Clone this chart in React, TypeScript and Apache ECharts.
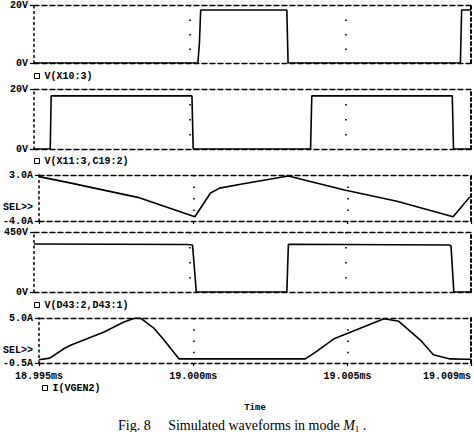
import React, { useEffect, useRef } from "react";
import * as echarts from "echarts";

// x positions are microseconds after 18.995 ms
const xTickPositions = [0, 5, 10, 14];
const xTickLabels = ["18.995ms", "19.000ms", "19.005ms", "19.009ms"];
const xName = "Time";

const p1Name = "V(X10:3)";
const p1T = [0, 5.25, 5.3, 5.34, 8.1, 8.14, 13.66, 13.7, 14];
const p1V = [0, 0, 7, 18.3, 18.3, 0, 0, 18.3, 18.3];
const p1YTicks = [0, 20];
const p1YLabels = ["0V", "20V"];

const p2Name = "V(X11:3,C19:2)";
const p2T = [0, 0.52, 0.55, 5.06, 5.1, 8.86, 8.9, 13.4, 13.44, 14];
const p2V = [0, 0, 17.7, 17.7, 0, 0, 17.7, 17.7, 0, 0];
const p2YTicks = [0, 20];
const p2YLabels = ["0V", "20V"];

const p3Name = "I(L1)";
const p3T = [0, 1.0, 3.2, 5.05, 5.56, 5.85, 6.58, 8.08, 9.9, 11.6, 13.42, 13.96];
const p3V = [2.75, 1.8, -0.4, -3.35, 0.26, 1.0, 1.63, 2.85, 0.72, -1.0, -3.35, -0.35];
const p3YTicks = [-4, -2, 3];
const p3YLabels = ["-4.0A", "SEL>>", "3.0A"];

const p4Name = "V(D43:2,D43:1)";
const p4T = [0, 4.9, 5.08, 5.2, 8.1, 8.15, 13.3, 13.36, 13.45, 14];
const p4V = [360, 356, 352, 0, 0, 358, 352, 345, 0, 0];
const p4YTicks = [0, 450];
const p4YLabels = ["0V", "450V"];

const p5Name = "I(VGEN2)";
const p5T = [0, 0.35, 0.83, 1.04, 2.11, 2.75, 3.12, 3.3, 3.71, 4.03, 4.54, 8.63, 8.95, 9.58, 10.45, 11.18, 11.66, 12.36, 12.78, 13.32, 13.83, 14];
const p5V = [-0.1, 0.1, 1.3, 1.7, 3.3, 4.5, 5.0, 4.95, 3.8, 2.4, 0.0, 0.0, 0.8, 2.5, 3.8, 4.9, 4.6, 2.3, 0.5, 0.0, -0.05, -0.05];
const p5YTicks = [-0.5, 1, 5];
const p5YLabels = ["-0.5A", "SEL>>", "5.0A"];

const FONT = "'Liberation Mono', 'DejaVu Sans Mono', monospace";
const lbl = { fontFamily: FONT, fontWeight: "bold" as const, fontSize: 10, color: "#000" };
const SERIF = "'Liberation Serif', 'Times New Roman', serif";

const LEFT = 34;
const WIDTH = 437;
const layout = [
  { top: 5, height: 58, legendTop: 71, legendLeft: 34, bottomTicks: false },
  { top: 89, height: 60, legendTop: 156, legendLeft: 34, bottomTicks: false },
  { top: 175, height: 46, legendTop: -1, legendLeft: 0, bottomTicks: true },
  { top: 232, height: 60, legendTop: 300, legendLeft: 34, bottomTicks: false },
  { top: 318, height: 45, legendTop: 383, legendLeft: 42, bottomTicks: true },
];

const panels = [
  { name: p1Name, t: p1T, v: p1V, ticks: p1YTicks, labels: p1YLabels },
  { name: p2Name, t: p2T, v: p2V, ticks: p2YTicks, labels: p2YLabels },
  { name: p3Name, t: p3T, v: p3V, ticks: p3YTicks, labels: p3YLabels },
  { name: p4Name, t: p4T, v: p4V, ticks: p4YTicks, labels: p4YLabels },
  { name: p5Name, t: p5T, v: p5V, ticks: p5YTicks, labels: p5YLabels },
];

function nearestLabel(vals: number[], labels: string[], v: number) {
  let best = 0;
  for (let i = 1; i < vals.length; i++) {
    if (Math.abs(vals[i] - v) < Math.abs(vals[best] - v)) best = i;
  }
  return labels[best];
}

const dashH = { color: "#000", width: 1.3, type: [5, 3] as number[] };
const dashV = { color: "#000", width: 1.5, type: [2, 3.5] as number[] };
const dashR = { color: "#000", width: 2, type: [3, 3] as number[] };

function buildOption() {
  const grid: any[] = [];
  const xAxis: any[] = [];
  const yAxis: any[] = [];
  const series: any[] = [];
  const legend: any[] = [];

  panels.forEach((p, i) => {
    const l = layout[i];
    const last = i === panels.length - 1;
    const yMin = p.ticks[0];
    const yMax = p.ticks[p.ticks.length - 1];
    grid.push({ left: LEFT, width: WIDTH, top: l.top, height: l.height, show: false });
    xAxis.push({
      type: "value",
      gridIndex: i,
      min: 0,
      max: 14,
      interval: 5,
      position: "bottom",
      axisLine: { show: true, onZero: false, lineStyle: dashH },
      axisTick: {
        show: l.bottomTicks,
        length: 3,
        lineStyle: { color: "#000", width: 1.2 },
      },
      axisLabel: last
        ? {
            show: true,
            customValues: xTickPositions,
            formatter: (v: number) => nearestLabel(xTickPositions, xTickLabels, v),
            ...lbl,
            margin: 8,
            alignMaxLabel: "right",
          }
        : { show: false },
      splitLine: {
        show: true,
        showMinLine: false,
        showMaxLine: false,
        lineStyle: { color: "#000", width: 1.6, type: [1.6, l.height / 4 - 1.6] },
      },
      name: last ? xName : "",
      nameLocation: "middle",
      nameGap: 40,
      nameTextStyle: { ...lbl, fontSize: 9 },
    });
    xAxis.push({
      type: "value",
      gridIndex: i,
      min: 0,
      max: 14,
      position: "top",
      axisLine: { show: true, onZero: false, lineStyle: dashH },
      axisTick: { show: false },
      axisLabel: { show: false },
      splitLine: { show: false },
    });
    yAxis.push({
      type: "value",
      gridIndex: i,
      min: yMin,
      max: yMax,
      position: "left",
      axisLine: { show: true, onZero: false, lineStyle: dashV },
      axisTick: {
        show: true,
        customValues: [yMin, yMax],
        length: 4,
        lineStyle: { color: "#000", width: 1.2 },
      },
      axisLabel: {
        show: true,
        customValues: p.ticks,
        formatter: (v: number) => nearestLabel(p.ticks, p.labels, v),
        ...lbl,
        margin: 6,
      },
      splitLine: { show: false },
    });
    yAxis.push({
      type: "value",
      gridIndex: i,
      min: yMin,
      max: yMax,
      position: "right",
      axisLine: { show: true, onZero: false, lineStyle: dashR },
      axisTick: { show: false },
      axisLabel: { show: false },
      splitLine: { show: false },
    });
    series.push({
      type: "line",
      name: p.name,
      xAxisIndex: 2 * i,
      yAxisIndex: 2 * i,
      data: p.t.map((x, j) => [x, p.v[j]]),
      showSymbol: false,
      symbol: "none",
      lineStyle: { color: "#000", width: 1.6 },
      itemStyle: { color: "#000" },
      silent: true,
    });
    if (l.legendTop >= 0) {
      legend.push({
        show: true,
        data: [p.name],
        left: l.legendLeft,
        top: l.legendTop,
        padding: 0,
        icon: "rect",
        itemWidth: 5,
        itemHeight: 5,
        itemStyle: { color: "#fff", borderColor: "#000", borderWidth: 1 },
        textStyle: { ...lbl },
        selectedMode: false,
      });
    }
  });

  return {
    animation: false,
    backgroundColor: "#fff",
    title: [
      {
        text: "{a|Fig. 8\u2003 Simulated waveforms in mode }{i|M}{s|1}{a| .}",
        left: 118,
        top: 418,
        padding: 0,
        textStyle: {
          fontWeight: "normal",
          rich: {
            a: { fontFamily: SERIF, fontSize: 14, fontWeight: "normal", color: "#000" },
            i: { fontFamily: SERIF, fontSize: 14, fontWeight: "normal", fontStyle: "italic", color: "#000" },
            s: { fontFamily: SERIF, fontSize: 9, fontWeight: "normal", color: "#000", padding: [6, 0, 0, 0] },
          },
        },
      },
    ],
    legend,
    grid,
    xAxis,
    yAxis,
    series,
  };
}

export default function App() {
  const ref = useRef<HTMLDivElement>(null);
  useEffect(() => {
    if (!ref.current) return;
    const chart = echarts.init(ref.current, undefined, { renderer: "svg" });
    chart.setOption(buildOption() as any);
    return () => chart.dispose();
  }, []);
  return (
    <div
      ref={ref}
      style={{ position: "fixed", left: 0, top: 0, width: 474, height: 432, background: "#fff" }}
    />
  );
}
